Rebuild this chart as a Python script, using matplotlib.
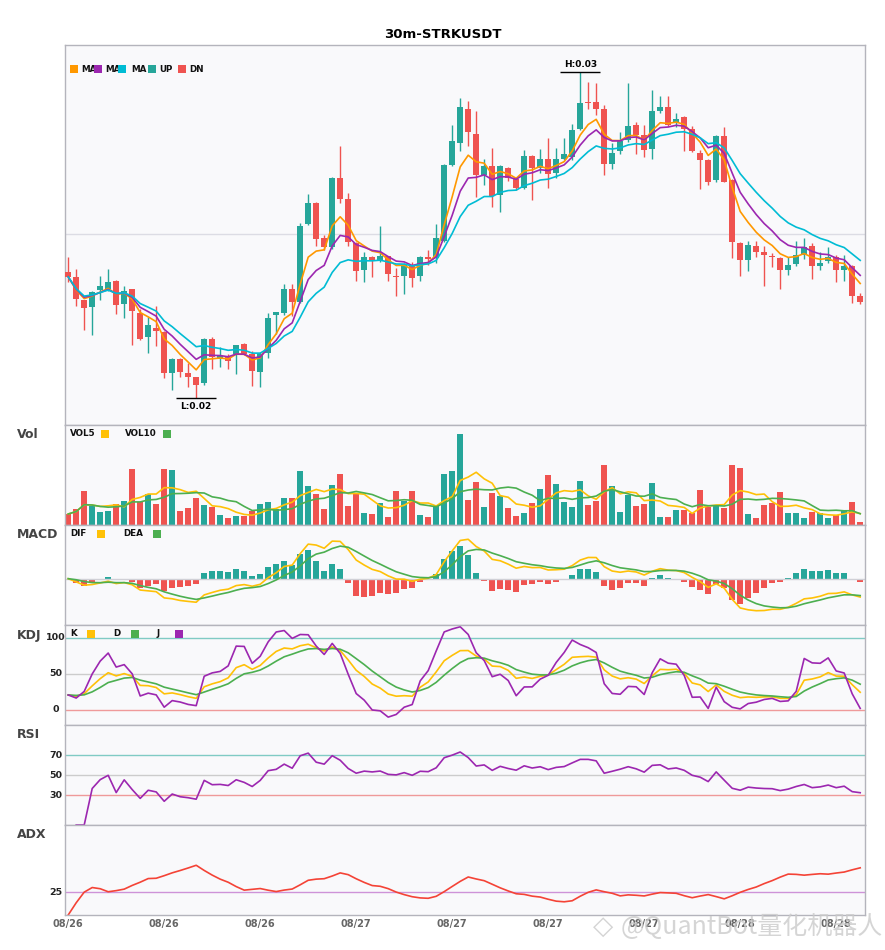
import numpy as np
import pandas as pd
import matplotlib
matplotlib.use("Agg")
import matplotlib.pyplot as plt
from matplotlib.patches import Rectangle

# ---------------- data ----------------
title = "30m-STRKUSDT"
opens = [0.02418, 0.02408, 0.02359, 0.02343, 0.02379, 0.02381, 0.02400, 0.02349, 0.02382, 0.02331,
         0.02279, 0.02299, 0.02290, 0.02202, 0.02233, 0.02203, 0.02193, 0.02181, 0.02275, 0.02233,
         0.02236, 0.02242, 0.02265, 0.02242, 0.02205, 0.02245, 0.02327, 0.02331, 0.02383, 0.02354,
         0.02522, 0.02567, 0.02491, 0.02471, 0.02620, 0.02574, 0.02480, 0.02422, 0.02451, 0.02441,
         0.02452, 0.02410, 0.02409, 0.02432, 0.02409, 0.02450, 0.02448, 0.02484, 0.02648, 0.02695,
         0.02767, 0.02713, 0.02626, 0.02645, 0.02583, 0.02641, 0.02617, 0.02599, 0.02666, 0.02640,
         0.02660, 0.02630, 0.02660, 0.02665, 0.02724, 0.02781, 0.02781, 0.02767, 0.02649, 0.02678,
         0.02701, 0.02733, 0.02711, 0.02681, 0.02763, 0.02771, 0.02736, 0.02750, 0.02724, 0.02673,
         0.02658, 0.02615, 0.02709, 0.02615, 0.02481, 0.02445, 0.02474, 0.02462, 0.02452, 0.02449,
         0.02422, 0.02435, 0.02455, 0.02474, 0.02432, 0.02441, 0.02451, 0.02422, 0.02432, 0.02368]
highs = [0.02450, 0.02425, 0.02359, 0.02378, 0.02409, 0.02425, 0.02402, 0.02389, 0.02383, 0.02339,
         0.02322, 0.02345, 0.02292, 0.02234, 0.02235, 0.02224, 0.02193, 0.02277, 0.02280, 0.02258,
         0.02244, 0.02263, 0.02266, 0.02249, 0.02247, 0.02331, 0.02333, 0.02393, 0.02393, 0.02523,
         0.02585, 0.02569, 0.02498, 0.02622, 0.02688, 0.02587, 0.02482, 0.02461, 0.02452, 0.02517,
         0.02453, 0.02427, 0.02437, 0.02440, 0.02453, 0.02466, 0.02522, 0.02649, 0.02733, 0.02790,
         0.02784, 0.02763, 0.02660, 0.02683, 0.02647, 0.02642, 0.02622, 0.02679, 0.02668, 0.02681,
         0.02706, 0.02683, 0.02706, 0.02735, 0.02846, 0.02825, 0.02822, 0.02775, 0.02694, 0.02718,
         0.02822, 0.02740, 0.02733, 0.02807, 0.02795, 0.02795, 0.02758, 0.02751, 0.02731, 0.02679,
         0.02659, 0.02711, 0.02728, 0.02617, 0.02482, 0.02484, 0.02485, 0.02473, 0.02460, 0.02450,
         0.02450, 0.02484, 0.02491, 0.02481, 0.02461, 0.02471, 0.02455, 0.02455, 0.02434, 0.02373]
lows = [0.02397, 0.02345, 0.02295, 0.02283, 0.02358, 0.02377, 0.02329, 0.02320, 0.02262, 0.02272,
        0.02245, 0.02260, 0.02191, 0.02165, 0.02193, 0.02172, 0.02149, 0.02176, 0.02210, 0.02216,
        0.02210, 0.02201, 0.02240, 0.02174, 0.02172, 0.02235, 0.02286, 0.02327, 0.02324, 0.02352,
        0.02519, 0.02475, 0.02466, 0.02468, 0.02567, 0.02473, 0.02400, 0.02398, 0.02407, 0.02439,
        0.02400, 0.02366, 0.02371, 0.02386, 0.02400, 0.02434, 0.02437, 0.02482, 0.02646, 0.02678,
        0.02688, 0.02578, 0.02605, 0.02558, 0.02546, 0.02612, 0.02594, 0.02595, 0.02573, 0.02630,
        0.02599, 0.02619, 0.02658, 0.02658, 0.02722, 0.02766, 0.02754, 0.02625, 0.02639, 0.02671,
        0.02697, 0.02671, 0.02665, 0.02660, 0.02758, 0.02731, 0.02729, 0.02677, 0.02676, 0.02596,
        0.02605, 0.02610, 0.02610, 0.02449, 0.02409, 0.02420, 0.02450, 0.02388, 0.02430, 0.02381,
        0.02413, 0.02432, 0.02447, 0.02403, 0.02423, 0.02438, 0.02396, 0.02400, 0.02352, 0.02349]
closes = [0.02408, 0.02361, 0.02341, 0.02375, 0.02389, 0.02397, 0.02347, 0.02378, 0.02336, 0.02276,
          0.02304, 0.02292, 0.02202, 0.02233, 0.02204, 0.02193, 0.02176, 0.02275, 0.02236, 0.02238,
          0.02228, 0.02263, 0.02242, 0.02206, 0.02244, 0.02320, 0.02332, 0.02383, 0.02354, 0.02516,
          0.02566, 0.02489, 0.02471, 0.02620, 0.02575, 0.02482, 0.02420, 0.02451, 0.02441, 0.02453,
          0.02414, 0.02408, 0.02434, 0.02405, 0.02451, 0.02447, 0.02492, 0.02647, 0.02699, 0.02771,
          0.02718, 0.02626, 0.02645, 0.02580, 0.02645, 0.02619, 0.02599, 0.02666, 0.02641, 0.02660,
          0.02629, 0.02660, 0.02671, 0.02723, 0.02779, 0.02779, 0.02767, 0.02649, 0.02673, 0.02699,
          0.02731, 0.02711, 0.02679, 0.02763, 0.02771, 0.02733, 0.02745, 0.02724, 0.02677, 0.02658,
          0.02611, 0.02709, 0.02611, 0.02482, 0.02445, 0.02477, 0.02462, 0.02454, 0.02451, 0.02422,
          0.02434, 0.02455, 0.02471, 0.02432, 0.02438, 0.02451, 0.02422, 0.02432, 0.02368, 0.02354]
volumes = [110, 160, 340, 190, 130, 140, 210, 240, 560, 230,
           310, 210, 560, 550, 140, 170, 270, 200, 180, 100,
           70, 90, 90, 140, 210, 230, 160, 270, 270, 540,
           390, 310, 160, 400, 510, 190, 320, 120, 110, 220,
           80, 340, 240, 340, 100, 80, 190, 510, 540, 910,
           250, 430, 180, 320, 290, 170, 90, 120, 220, 360,
           500, 410, 230, 180, 440, 200, 240, 600, 390, 130,
           300, 190, 210, 420, 80, 80, 150, 150, 120, 350,
           180, 200, 170, 600, 570, 110, 70, 200, 220, 330,
           120, 120, 70, 130, 120, 70, 100, 140, 230, 30]
tick_positions = [0, 12, 24, 36, 48, 60, 72, 84, 96]
tick_labels = ["08/26", "08/26", "08/26", "08/27", "08/27", "08/27", "08/27", "08/28", "08/28"]
ma_spans = [5, 8, 14]

# ---------------- styling ----------------
UP = "#26a69a"
DN = "#ef5350"
C_MA = ["#ff9800", "#9c27b0", "#00bcd4"]
YEL = "#ffc107"
GRN = "#4caf50"
PUR = "#9c27b0"
BG = "#f9f9fb"
SPINE = "#b4b4bc"

o = pd.Series(opens); h = pd.Series(highs); l = pd.Series(lows); c = pd.Series(closes)
v = pd.Series(volumes, dtype=float)
n = len(c)
x = np.arange(n)
up = (c >= o).values
cols = np.where(up, UP, DN)

# indicators
mas = [c.ewm(span=s, adjust=True).mean() for s in ma_spans]
vol5 = v.rolling(5, min_periods=1).mean()
vol10 = v.rolling(10, min_periods=1).mean()
dif = c.ewm(span=6, adjust=False).mean() - c.ewm(span=13, adjust=False).mean()
dea = dif.ewm(span=5, adjust=False).mean()
hist = 2 * (dif - dea)
llv = l.rolling(9, min_periods=1).min()
hhv = h.rolling(9, min_periods=1).max()
rsv = ((c - llv) / (hhv - llv) * 100).fillna(50)
K = rsv.ewm(com=2, adjust=False).mean()
D = K.ewm(com=2, adjust=False).mean()
J = 3 * K - 2 * D
diff = c.diff().fillna(0)
gain = diff.clip(lower=0).ewm(alpha=1 / 14, adjust=False).mean()
loss = (-diff.clip(upper=0)).ewm(alpha=1 / 14, adjust=False).mean()
rsi = 100 * gain / (gain + loss).replace(0, np.nan)
pc = c.shift(1).fillna(c.iloc[0])
tr = pd.concat([h - l, (h - pc).abs(), (l - pc).abs()], axis=1).max(axis=1)
upm = (h - h.shift(1)).fillna(0)
dnm = (l.shift(1) - l).fillna(0)
pdm = np.where((upm > dnm) & (upm > 0), upm, 0.0)
mdm = np.where((dnm > upm) & (dnm > 0), dnm, 0.0)
atr = tr.ewm(span=14, adjust=False).mean()
pdi = 100 * pd.Series(pdm).ewm(span=14, adjust=False).mean() / atr
mdi = 100 * pd.Series(mdm).ewm(span=14, adjust=False).mean() / atr
dx = (100 * (pdi - mdi).abs() / (pdi + mdi)).fillna(0)
adx = dx.ewm(span=14, adjust=False).mean()

# ---------------- figure ----------------
W, H = 885, 950
fig = plt.figure(figsize=(W / 100, H / 100), dpi=100)
fig.patch.set_facecolor("white")


def fx(px):
    return px / W


def fy(py):
    return 1 - py / H


def make_ax(top, bottom):
    ax = fig.add_axes([fx(65), fy(bottom), (865 - 65) / W, (bottom - top) / H])
    ax.set_facecolor(BG)
    for s in ax.spines.values():
        s.set_color(SPINE)
        s.set_linewidth(1)
    ax.set_xlim(-0.4, n - 0.4)
    ax.tick_params(axis="both", length=0, labelbottom=False, labelleft=False)
    ax.set_xticks([])
    return ax


ax_main = make_ax(45, 425)
ax_vol = make_ax(425, 525)
ax_macd = make_ax(525, 625)
ax_kdj = make_ax(625, 725)
ax_rsi = make_ax(725, 825)
ax_adx = make_ax(825, 915)

# main candles
lo, hi = l.min(), h.max()
rng = hi - lo
ax_main.set_ylim(lo - 0.083 * rng, hi + 0.083 * rng)
body = np.maximum((c - o).abs().values, rng * 0.003)
ax_main.vlines(x, l, h, colors=cols, lw=1, zorder=2)
ax_main.bar(x, body, bottom=np.minimum(o, c), width=0.72, color=cols, zorder=3)
for ma, col in zip(mas, C_MA):
    ax_main.plot(x, ma, color=col, lw=1.2, zorder=4)
ax_main.set_yticks([0.025])
ax_main.yaxis.grid(True, color="#dcdce4", lw=1)
ax_main.set_axisbelow(True)

ih = int(h.values.argmax()); il = int(l.values.argmin())
ax_main.hlines(hi, ih - 2.5, ih + 2.5, color="black", lw=1, zorder=5)
ax_main.annotate(f"H:{hi:.2f}", (ih, hi), xytext=(0, 2), textcoords="offset points",
                 ha="center", va="bottom", fontsize=6.5, fontweight="bold")
ax_main.hlines(lo, il - 2.5, il + 2.5, color="black", lw=1, zorder=5)
ax_main.annotate(f"L:{lo:.2f}", (il, lo), xytext=(0, -3), textcoords="offset points",
                 ha="center", va="top", fontsize=6.5, fontweight="bold")

# volume
ax_vol.bar(x, v, width=0.75, color=cols)
ax_vol.plot(x, vol5, color=YEL, lw=1.2)
ax_vol.plot(x, vol10, color=GRN, lw=1.2)
ax_vol.set_ylim(0, v.max() * 1.1)

# macd
ax_macd.axhline(0, color="#d0d0d6", lw=1)
ax_macd.bar(x, hist, width=0.75, color=np.where(hist >= 0, UP, DN))
ax_macd.plot(x, dif, color=YEL, lw=1.2)
ax_macd.plot(x, dea, color=GRN, lw=1.2)
mn = min(dif.min(), dea.min(), hist.min()); mx = max(dif.max(), dea.max(), hist.max())
r = mx - mn
ax_macd.set_ylim(mn - 0.2 * r, mx + 0.2 * r)

# kdj
for yv, col in ((100, "#80cbc4"), (50, "#cccccc"), (0, "#ef9a9a")):
    ax_kdj.axhline(yv, color=col, lw=1)
ax_kdj.plot(x, K, color=YEL, lw=1.2)
ax_kdj.plot(x, D, color=GRN, lw=1.2)
ax_kdj.plot(x, J, color=PUR, lw=1.2)
ax_kdj.set_ylim(-21, 118)

# rsi
for yv, col in ((70, "#80cbc4"), (50, "#cccccc"), (30, "#ef9a9a")):
    ax_rsi.axhline(yv, color=col, lw=1)
ax_rsi.plot(x, rsi, color=PUR, lw=1.2)
ax_rsi.set_ylim(0, 100)

# adx
ax_adx.axhline(25, color="#ce93d8", lw=1)
ax_adx.plot(x, adx, color="#f44336", lw=1.2)
ax_adx.set_ylim(0, 98)

# y labels (centred about 9 px left of the axes)
for ax, vals in ((ax_kdj, (100, 50, 0)), (ax_rsi, (70, 50, 30)), (ax_adx, (25,))):
    for yv in vals:
        ax.text(-9 / 800, yv, str(yv), transform=ax.get_yaxis_transform(), ha="center",
                va="center", fontsize=6.8, fontweight="bold", color="#222222")

# x tick labels
for tp, tl in zip(tick_positions, tick_labels):
    ax_adx.text(tp, -0.04, tl, transform=ax_adx.get_xaxis_transform(), ha="center",
                va="top", fontsize=7, fontweight="bold", color="#666666")

# title and panel names
fig.text(fx(443), fy(34), title, ha="center", va="center", fontsize=9.5, fontweight="bold")
for name, py in (("Vol", 435), ("MACD", 535), ("KDJ", 636), ("RSI", 735), ("ADX", 835)):
    fig.text(fx(17), fy(py), name, ha="left", va="center", fontsize=9, fontweight="bold",
             color="#444444")


# legends
def square(px, py, col):
    fig.add_artist(Rectangle((fx(px), fy(py + 4)), 8 / W, 8 / H, transform=fig.transFigure,
                             facecolor=col, edgecolor="none", zorder=10))


def label(px, py, s):
    t = fig.text(fx(px), fy(py), s, ha="left", va="center", fontsize=6.3, fontweight="bold",
                 color="#111111")
    t.set_zorder(9)


ly = 69
for sx, col, tx, s in ((70, C_MA[0], 81, "MA"), (94, C_MA[1], 105, "MA"),
                       (118, C_MA[2], 131, "MA"), (148, UP, 159, "UP"), (178, DN, 189, "DN")):
    label(tx, ly, s)
    square(sx, ly, col)

label(70, 434, "VOL5"); square(101, 434, YEL)
label(125, 434, "VOL10"); square(163, 434, GRN)
label(70, 534, "DIF"); square(97, 534, YEL)
label(123, 534, "DEA"); square(153, 534, GRN)
label(70, 634, "K"); square(87, 634, YEL)
label(113, 634, "D"); square(131, 634, GRN)
label(157, 634, "J"); square(175, 634, PUR)

# watermark
fig.text(fx(603), fy(927), "\u25c7", ha="center", va="center", fontsize=19, color="#d4d4d4",
         family=["DejaVu Sans"], zorder=20)
fig.text(fx(621), fy(927), "@QuantBot量化机器人", ha="left", va="center", fontsize=18,
         color="#cbcbcb", alpha=0.8, family=["Noto Sans CJK SC", "DejaVu Sans"], zorder=20)

fig.savefig("out.png", dpi=100, facecolor="white")
